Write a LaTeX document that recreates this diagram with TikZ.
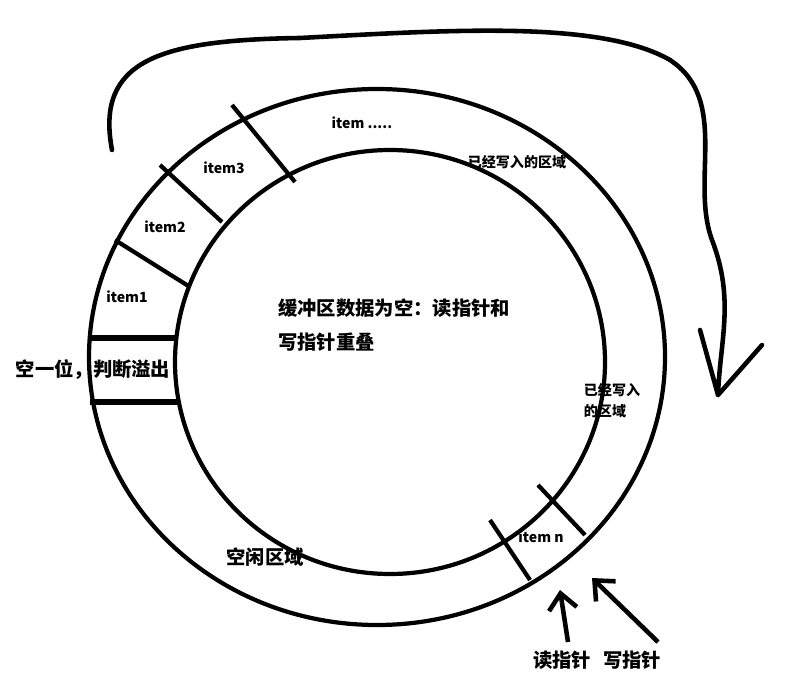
\documentclass[tikz,border=0pt]{standalone}
\usepackage{fontspec}
\newfontfamily\cjk{Noto Sans CJK SC}
\usetikzlibrary{arrows.meta}
\begin{document}
\begin{tikzpicture}[x=0.02cm, y=-0.02cm,
			ring/.style={line width=2.4pt},
			cut/.style={line width=2.4pt},
			lbl/.style={font=\cjk\bfseries\fontsize{8}{10}\selectfont, inner sep=1pt},
			big lbl/.style={font=\cjk\bfseries\fontsize{11}{13}\selectfont, inner sep=1pt},
			pointer/.style={line width=2.6pt, -{Straight Barb[length=9pt, width=16pt]}}]
			\useasboundingbox (0,0) rectangle (790,685);
			\draw[ring] (377,357) ellipse [x radius=288, y radius=268];
			\draw[ring] (390,362) ellipse [x radius=215, y radius=212];
			% slots
			\draw[cut] (232,105) -- (295,182);
			\draw[cut] (160,165) -- (222,222);
			\draw[cut] (115,240) -- (190,287);
			\draw[line width=3.2pt] (88,338) -- (178,338);
			\draw[line width=3.2pt] (90,402) -- (180,402);
			\draw[cut] (490,520) -- (530,580);
			\draw[cut] (538,485) -- (585,535);
			% labels
			\node[lbl] (itemdots) at (362,123) {item .....};
			\node[lbl] (item3) at (224,168) {item3};
			\node[lbl] (item2) at (165,227) {item2};
			\node[lbl] (item1) at (127,297) {item1};
			\node[lbl] (itemn) at (541,537) {item n};
			\node[lbl] (written) at (517,162) {已经写入的区域};
			\node[lbl, align=left] (written2) at (612,401) {已经写入\\[2pt]的区域};
			\node[big lbl, align=left, anchor=west] (empty) at (276,325) {缓冲区数据为空：读指针和\\[6pt]写指针重叠};
			\node[big lbl] (spare) at (93,370) {空一位，判断溢出};
			\node[big lbl] (free) at (265,557) {空闲区域};
			\node[big lbl] (rptr) at (562,660) {读指针};
			\node[big lbl] (wptr) at (632,660) {写指针};
			% pointers
			\coordinate (rtip) at (560,590);
			\coordinate (wtip) at (592,578);
			\draw[pointer] (568,642) -- (rtip);
			\draw[pointer] (658,642) -- (wtip);
			% wrap-around arrow
			\draw[line width=2.6pt, line cap=round, line join=round]
			  (112,150) .. controls (95,60) and (160,40) .. (300,38)
			  .. controls (450,30) and (600,20) .. (670,60)
			  .. controls (730,100) and (690,180) .. (712,240)
			  .. controls (735,300) and (720,340) .. (718,395)
			  -- (700,330);
			\draw[line width=2.6pt, line cap=round] (718,395) -- (762,345);
		\end{tikzpicture}
\end{document}
